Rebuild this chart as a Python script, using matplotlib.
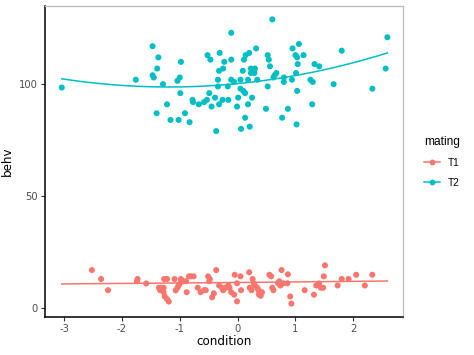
import matplotlib
matplotlib.use('Agg')
import matplotlib.pyplot as plt
from matplotlib.lines import Line2D
import numpy as np

# ─── Data ───────────────────────────────────────────────────────────────────
t2_x = [-3.04, -1.76, -1.47, -1.37, -1.39, -1.47, -1.45, -1.29, -1.22, -1.40,
        -1.16, -1.02, -0.91, -0.83, -0.98, -1.04, -1.00, -0.99, -0.78, -0.77,
        -0.67, -0.58, -0.53, -0.45, -0.39, -0.49, -0.52, -0.47, -0.37, -0.34,
        -0.34, -0.32, -0.31, -0.32,
        -0.23, -0.25, -0.11, -0.11, -0.17, -0.11, -0.06, -0.26, -0.16, -0.01,
        0.01, 0.05, 0.05, 0.10, 0.13, 0.09, 0.11, 0.14, 0.20, 0.18,
        0.18, 0.25, 0.23, 0.30, 0.23, 0.29, 0.32, 0.34, 0.13, 0.06,
        0.21, 0.52, 0.54, 0.56, 0.52, 0.49, 0.62, 0.64, 0.67, 0.77,
        0.80, 0.80, 0.87, 0.94, 0.95, 1.06, 1.00, 1.03, 1.04, 1.01,
        1.03, 1.02, 1.14, 1.26, 1.30, 1.29, 1.33, 1.41, 1.66, 1.80,
        2.33, 2.56, 2.59, 0.60]
t2_y = [98.5, 102, 117, 112, 107, 104, 103, 100, 91, 87,
        84, 84, 87, 83, 110, 101.5, 103, 96, 93, 92,
        91, 92, 93, 90, 94, 96, 113, 111, 79, 102,
        99, 106, 114, 91,
        110, 107, 111, 123, 99, 102, 101, 93, 93, 90,
        94, 102, 98, 97, 96, 106, 111, 113, 114, 102,
        91, 94, 107, 107, 105, 105, 116, 102, 85, 80,
        81, 113, 111, 108, 99, 89, 103, 104, 105, 85,
        103, 101, 89, 102, 116, 118, 113, 112, 109, 105,
        97, 82, 113, 102, 101, 91, 109, 108, 100, 115,
        98, 107, 121, 129]

t1_x = [-2.52, -2.36, -2.24, -1.73, -1.74, -1.58, -1.36, -1.32, -1.28, -1.27,
        -1.22, -1.28, -1.26, -1.22, -1.19, -1.34, -1.09, -1.07, -1.04, -1.02,
        -1.00, -0.98, -0.94, -0.89, -0.88, -0.84, -0.81, -0.76, -0.69, -0.64,
        -0.58, -0.55, -0.51, -0.48, -0.49, -0.44, -0.41, -0.37, -0.32,
        -0.27, -0.25, -0.21, -0.16, -0.14, -0.11, -0.06, -0.05, -0.01, 0.05,
        0.06, -0.01, 0.20, 0.21, 0.24, 0.26, 0.28, 0.30, 0.34, 0.36,
        0.38, 0.40, 0.42, 0.37, 0.55, 0.58, 0.62, 0.60, 0.70, 0.72,
        0.74, 0.76, 0.79, 0.87, 0.86, 0.91, 0.93, 1.16, 1.32, 1.36,
        1.41, 1.44, 1.48, 1.49, 1.51, 1.73, 1.80, 1.92, 2.05, 2.20,
        2.33]
t1_y = [16.8, 12.8, 7.8, 12.8, 11.8, 10.8, 8.9, 8.9, 8.9, 12.8,
        12.8, 6.9, 5.0, 3.8, 2.7, 7.8, 12.8, 7.7, 8.9, 10.0,
        10.7, 12.8, 11.8, 11.8, 6.9, 14.0, 14.0, 14.0, 8.9, 6.9,
        7.8, 7.8, 14.0, 12.8, 11.8, 4.6, 6.4, 16.8, 9.9,
        8.9, 7.8, 8.9, 9.9, 8.9, 6.9, 5.8, 14.7, 10.9, 14.0,
        7.8, 2.8, 15.8, 8.9, 7.8, 12.8, 10.9, 9.9, 8.9, 7.8,
        6.4, 5.3, 6.9, 5.8, 14.7, 14.0, 7.8, 8.9, 10.9, 11.8,
        9.9, 16.8, 10.9, 14.9, 10.9, 5.0, 1.8, 7.8, 5.8, 9.9,
        10.8, 8.9, 8.9, 14.0, 18.9, 9.9, 12.8, 12.8, 14.7, 9.9,
        14.7]

# smoothed trend values (quadratic fits)
smooth_t2_x = [-3.04, -0.64, 0.22, 1.08, 1.94, 2.59]
smooth_t2_y = [102.4, 99.2, 100.7, 104.2, 109.4, 113.9]
smooth_t1_x = [-3.04, -0.21, 2.59]
smooth_t1_y = [10.6, 11.2, 11.9]

groups = ['T1', 'T2']
colors = {'T1': '#F8766D', 'T2': '#00BFC4'}
xticks = [-3, -2, -1, 0, 1, 2]
yticks = [0, 50, 100]

# ─── Canvas 474×355 px ──────────────────────────────────────────────────────
W, H = 474, 355
fig = plt.figure(figsize=(W / 100, H / 100), dpi=100, facecolor='white')
ax = fig.add_axes([45 / W, (H - 317) / H, (403 - 45) / W, (317 - 6) / H])

plt.rcParams['font.family'] = ['Liberation Sans', 'DejaVu Sans']
TICK_C = '#4D4D4D'

data = {'T1': (t1_x, t1_y), 'T2': (t2_x, t2_y)}
smooth = {'T1': (smooth_t1_x, smooth_t1_y), 'T2': (smooth_t2_x, smooth_t2_y)}

for g in groups:
    x, y = data[g]
    ax.scatter(x, y, s=19, color=colors[g], edgecolors='none', zorder=3)
    sx, sy = smooth[g]
    coef = np.polyfit(sx, sy, 2)
    xs = np.linspace(min(sx), max(sx), 200)
    ax.plot(xs, np.polyval(coef, xs), color=colors[g], lw=1.1, zorder=2)

ax.set_xlim(-3.33, 2.86)
ax.set_ylim(-4.2, 135.0)
ax.set_xticks(xticks)
ax.set_yticks(yticks)
ax.set_xticklabels([str(t) for t in xticks])

for s in ['left', 'bottom']:
    ax.spines[s].set_color('black')
    ax.spines[s].set_linewidth(1.1)
for s in ['top', 'right']:
    ax.spines[s].set_color('#BBBBBB')
    ax.spines[s].set_linewidth(0.9)

ax.tick_params(axis='both', colors='#333333', labelcolor=TICK_C,
               labelsize=7.2, length=3, width=0.8, pad=2)
ax.set_xlabel('condition', fontsize=8.6, color='black', labelpad=1)
ax.set_ylabel('behv', fontsize=8.6, color='black', labelpad=4)

# ─── Legend ─────────────────────────────────────────────────────────────────
handles = [Line2D([0], [0], color=colors[g], lw=1.1, marker='o',
                  markersize=4.2, markeredgewidth=0) for g in groups]
leg = fig.legend(handles, groups, title='mating', loc='upper left',
                 bbox_to_anchor=(420 / W, 1 - 132 / H), frameon=False,
                 fontsize=7.2, title_fontsize=8.6, handlelength=1.6,
                 handletextpad=0.8, labelspacing=1.0, borderaxespad=0)
leg._legend_box.align = 'left'

fig.savefig('out.png', dpi=100, facecolor='white')
